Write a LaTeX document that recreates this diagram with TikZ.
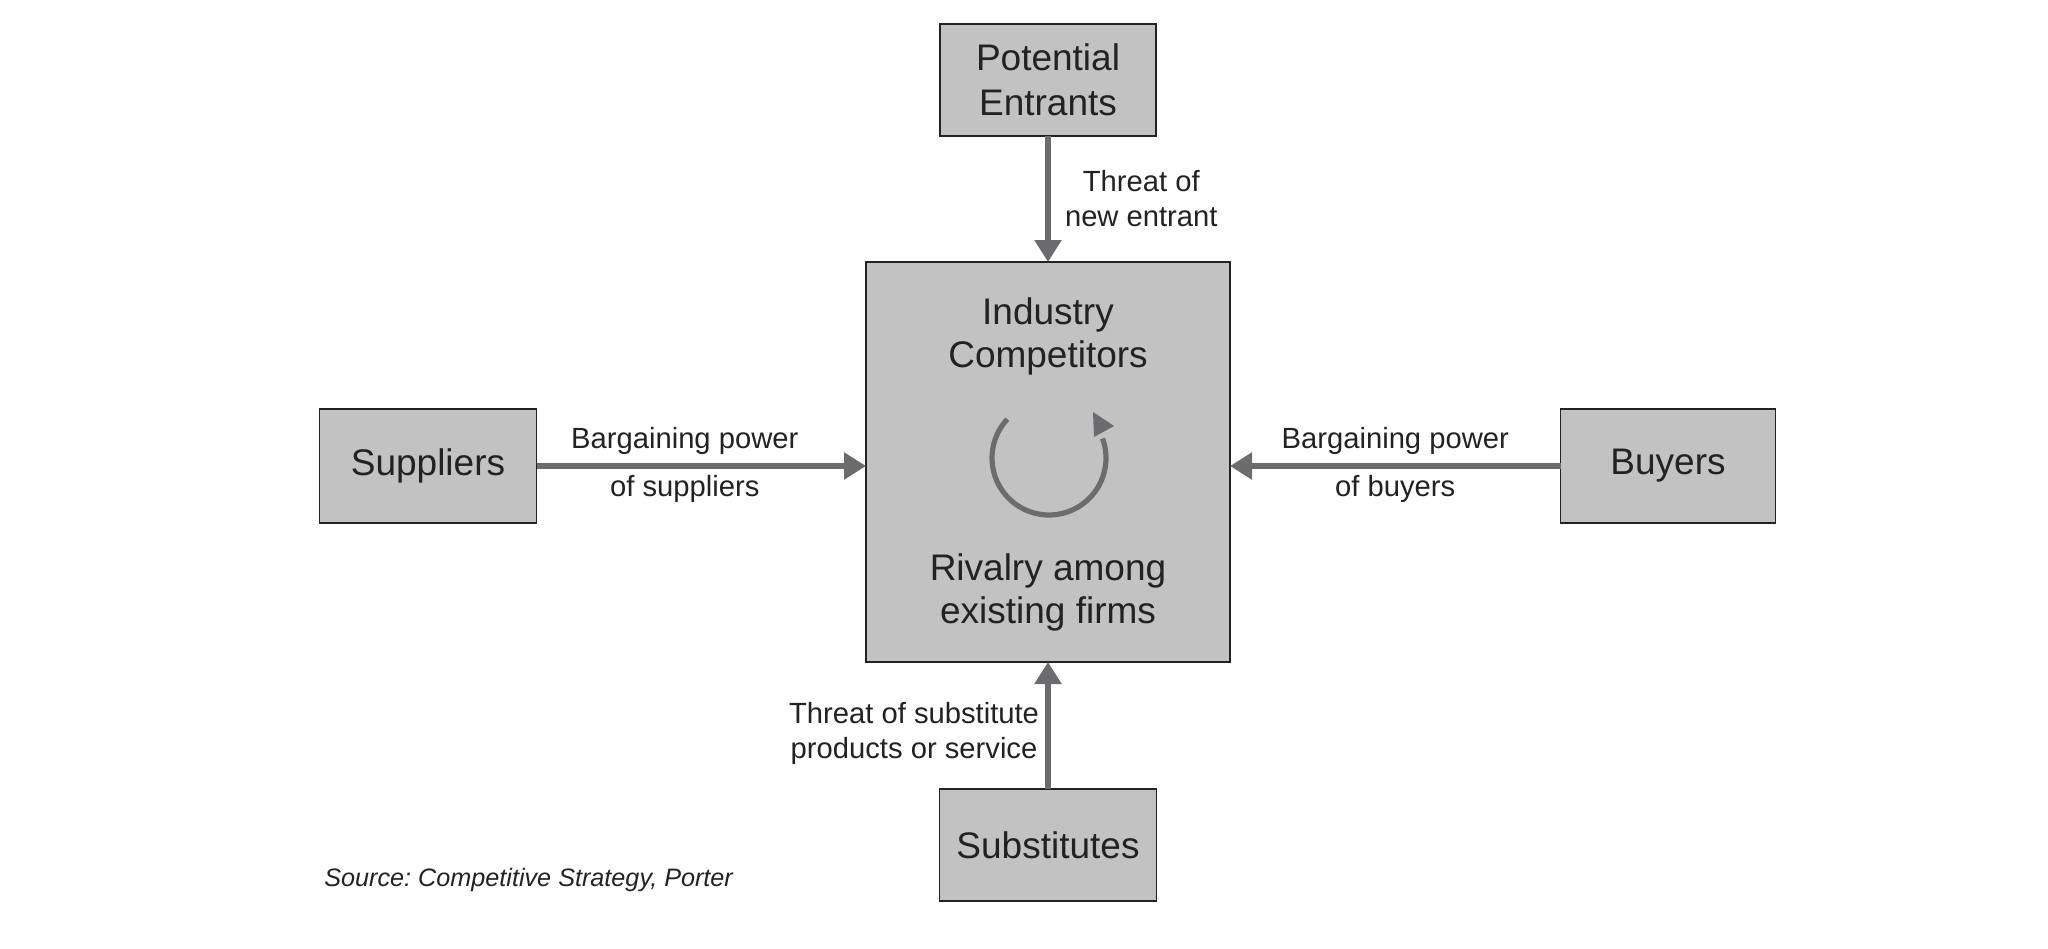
\documentclass[tikz,border=0pt]{standalone}
\usepackage{fontspec}
\setmainfont{Liberation Sans}
\usetikzlibrary{arrows.meta,calc,positioning}
\definecolor{boxgray}{RGB}{194,194,194}
\definecolor{arrowgray}{RGB}{108,108,110}
\definecolor{inkgray}{RGB}{34,34,34}

\begin{document}
\begin{tikzpicture}[x=0.5pt,y=-0.5pt,
    force/.style={line width=3pt,draw=arrowgray,-{Triangle[length=11pt,width=13pt]}},
    player/.style={draw=inkgray,line width=0.9pt,fill=boxgray,inner sep=0pt,outer sep=0pt,
      align=center,text=inkgray,font=\fontsize{18.5}{22.5}\selectfont},
    playertext/.style={align=center,text=inkgray,font=\fontsize{18.5}{21.5}\selectfont},
    forcelabel/.style={text=inkgray,align=center,font=\fontsize{14.6}{17.5}\selectfont,inner sep=3pt}]
    \useasboundingbox (0,0) rectangle (2048,948);
    % De fem kræfter
    \node[player,minimum width=182pt,minimum height=200pt] (industry) at (1048,462) {};
    \node[player,minimum width=108pt,minimum height=56pt] (entrants) at (1048,80) {Potential\\Entrants};
    \node[player,minimum width=108.5pt,minimum height=57pt] (suppliers) at (428,466) {Suppliers};
    \node[player,minimum width=107.5pt,minimum height=57pt] (buyers) at (1668,466) {Buyers};
    \node[player,minimum width=108.5pt,minimum height=56pt] (substitutes) at (1048,845) {Substitutes};
    \node[playertext] (competitors) at (1048,336) {Industry\\Competitors};
    \node[playertext] (rivalry) at (1048,592) {Rivalry among\\existing firms};
    % Rivaliseringspil
    \coordinate (spin) at (1049,458);
    \draw[line width=2.6pt,draw=arrowgray] (spin) ++(-137:57) arc[start angle=-137,end angle=-380,radius=57];
    \fill[arrowgray] (spin) ++(44,-46) -- ++(21,14) -- ++(-20,11) -- cycle;
    % Pile ind mod branchen
    \draw[force] (entrants) -- (industry)
      node[forcelabel,midway,right=4pt] {Threat of\\new entrant};
    \draw[force] (substitutes) -- (industry)
      node[forcelabel,midway,left=0pt,yshift=-4pt] {Threat of substitute\\products or service};
    \draw[force] (suppliers.east) -- (industry.west |- suppliers.east)
      node[forcelabel,pos=0.45,above=1pt] {Bargaining power}
      node[forcelabel,pos=0.45,below=0pt] {of suppliers};
    \draw[force] (buyers.west) -- (industry.east |- buyers.west)
      node[forcelabel,midway,above=1pt] {Bargaining power}
      node[forcelabel,midway,below=0pt] {of buyers};
    \node[anchor=west,inner sep=0pt,text=inkgray,font=\fontsize{12.6}{15}\selectfont\itshape] (source)
      at (324,880) {\frenchspacing Source: Competitive Strategy, Porter};
\end{tikzpicture}
\end{document}
